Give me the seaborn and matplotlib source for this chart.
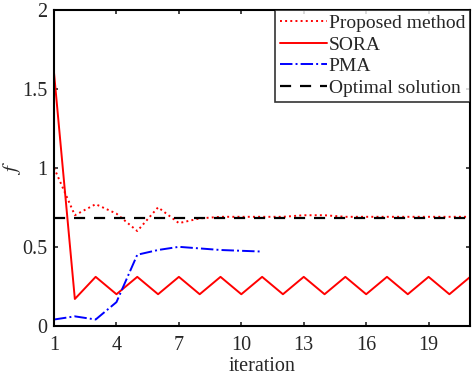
import numpy as np
import pandas as pd
import matplotlib
matplotlib.use("Agg")
import matplotlib.pyplot as plt
import seaborn as sns

# data
iters = list(range(1, 22))
proposed = [1.0, 0.70, 0.77, 0.71, 0.60, 0.75, 0.65, 0.68, 0.69, 0.69, 0.69,
            0.69, 0.70, 0.70, 0.69, 0.69, 0.69, 0.69, 0.69, 0.69, 0.69]
sora = [1.60, 0.17, 0.31, 0.20, 0.31, 0.20, 0.31, 0.20, 0.31, 0.20, 0.31,
        0.20, 0.31, 0.20, 0.31, 0.20, 0.31, 0.20, 0.31, 0.20, 0.31]
pma_iters = list(range(1, 12))
pma = [0.04, 0.06, 0.04, 0.15, 0.45, 0.48, 0.50, 0.49, 0.48, 0.475, 0.47]
optimal = 0.68

sns.set_style("ticks")
plt.rcParams['font.family'] = ['Liberation Serif', 'DejaVu Serif']
plt.rcParams['mathtext.fontset'] = 'stix'

fig = plt.figure(figsize=(4.74, 3.78), dpi=100)
ax = fig.add_axes([0.114, 0.138, 0.878, 0.836])

df_prop = pd.DataFrame({'iteration': iters, 'f': proposed})
df_sora = pd.DataFrame({'iteration': iters, 'f': sora})
df_pma = pd.DataFrame({'iteration': pma_iters, 'f': pma})

sns.lineplot(data=df_prop, x='iteration', y='f', ax=ax, color='red',
             linestyle=':', linewidth=1.4, label='Proposed method')
sns.lineplot(data=df_sora, x='iteration', y='f', ax=ax, color='red',
             linestyle='-', linewidth=1.4, label='SORA')
sns.lineplot(data=df_pma, x='iteration', y='f', ax=ax, color='blue',
             linestyle='-.', linewidth=1.4, label='PMA')
ax.axhline(optimal, color='black', linestyle=(0, (5, 4)), linewidth=1.6,
           label='Optimal solution')

ax.set_xlim(1, 21)
ax.set_ylim(0, 2)
ax.set_xticks([1, 4, 7, 10, 13, 16, 19])
ax.set_yticks([0, 0.5, 1, 1.5, 2])
ax.set_yticklabels(['0', '0.5', '1', '1.5', '2'])
ax.tick_params(direction='in', top=True, right=True, labelsize=14.5,
               length=3, width=1.2)
ax.tick_params(axis='x', pad=7)
ax.tick_params(axis='y', pad=5)
for s in ax.spines.values():
    s.set_linewidth(1.5)
    s.set_color('black')

ax.set_xlabel('iteration', fontsize=14.5, labelpad=2)
ax.set_ylabel('$f$', fontsize=15)
ax.yaxis.set_label_coords(-0.075, 0.5)

leg = ax.legend(loc='upper right', fontsize=14, frameon=True, fancybox=False,
                edgecolor='black', borderaxespad=0, handlelength=2.4,
                handletextpad=0.1, borderpad=0.25, labelspacing=0.2)
leg.get_frame().set_linewidth(1.2)

fig.savefig('out.png', dpi=100)
